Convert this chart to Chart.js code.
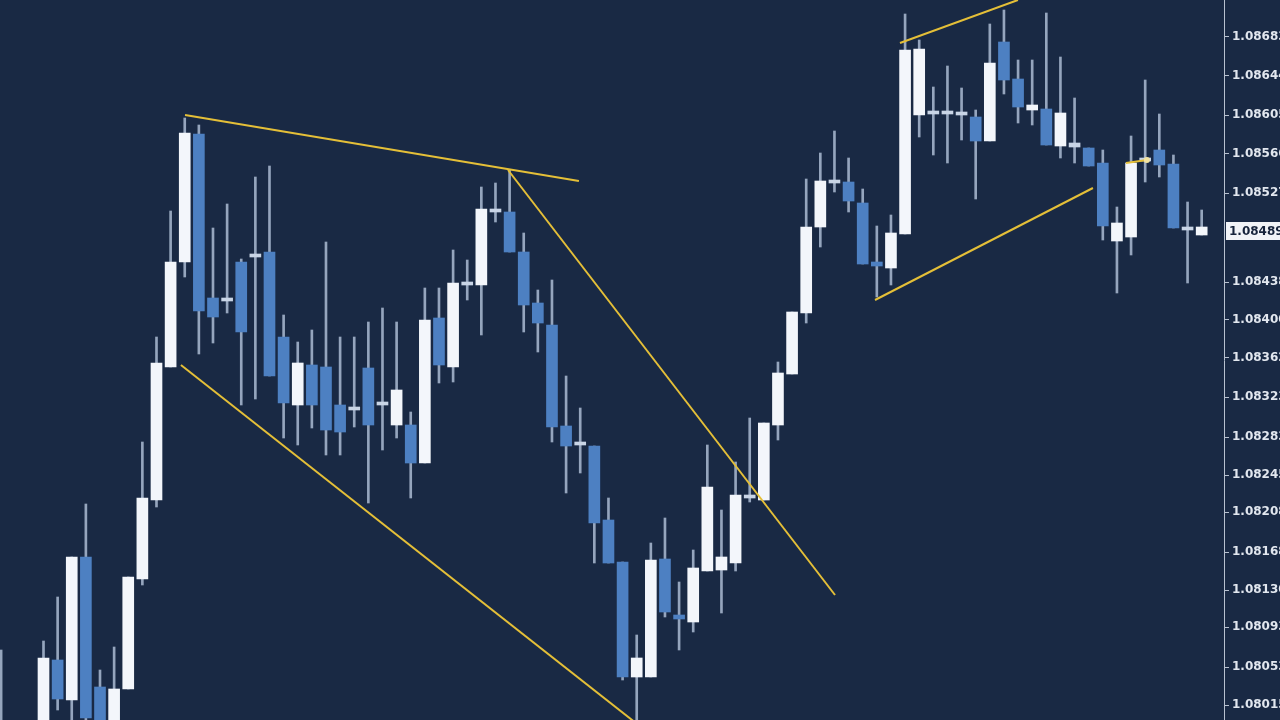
<!DOCTYPE html>
<html>
<head>
<meta charset="utf-8">
<script src="https://cdn.jsdelivr.net/npm/chart.js@4.4.1/dist/chart.umd.min.js"></script>
<style>
  html, body { margin: 0; padding: 0; background: #19294425; overflow: hidden; }
  body { background: #192944; }
  #wrap { width: 1280px; height: 720px; position: relative; }
</style>
</head>
<body>
<div id="wrap"><canvas id="price-chart"></canvas></div>
<script>
// Nến: open / high / low / close theo thứ tự thời gian
const openPrices = [
  1.07960, 1.07950, 1.07990, 1.07960, 1.08060, 1.08020, 1.08163, 1.08033, 1.07980, 1.08031,
  1.08141, 1.08220, 1.08353, 1.08458, 1.08586, 1.08422, 1.08419, 1.08458, 1.08463, 1.08468,
  1.08383, 1.08315, 1.08355, 1.08353, 1.08315, 1.08313, 1.08352, 1.08315, 1.08295, 1.08295,
  1.08257, 1.08402, 1.08353, 1.08438, 1.08435, 1.08511, 1.08508, 1.08468, 1.08417, 1.08395,
  1.08294, 1.08278, 1.08274, 1.08200, 1.08158, 1.08043, 1.08043, 1.08161, 1.08105, 1.08098,
  1.08149, 1.08150, 1.08157, 1.08225, 1.08220, 1.08295, 1.08346, 1.08407, 1.08493, 1.08540,
  1.08538, 1.08517, 1.08458, 1.08452, 1.08486, 1.08605, 1.08606, 1.08609, 1.08608, 1.08603,
  1.08579, 1.08678, 1.08641, 1.08610, 1.08611, 1.08574, 1.08577, 1.08572, 1.08557, 1.08479,
  1.08483, 1.08562, 1.08570, 1.08556, 1.08493, 1.08485
];
const highPrices = [
  1.08070, 1.07995, 1.07998, 1.08079, 1.08123, 1.08163, 1.08216, 1.08050, 1.08073, 1.08143,
  1.08278, 1.08383, 1.08509, 1.08602, 1.08595, 1.08492, 1.08516, 1.08461, 1.08543, 1.08554,
  1.08405, 1.08378, 1.08390, 1.08478, 1.08383, 1.08383, 1.08398, 1.08412, 1.08398, 1.08308,
  1.08432, 1.08432, 1.08470, 1.08460, 1.08533, 1.08537, 1.08550, 1.08487, 1.08430, 1.08440,
  1.08344, 1.08312, 1.08274, 1.08222, 1.08158, 1.08085, 1.08177, 1.08202, 1.08138, 1.08170,
  1.08275, 1.08210, 1.08258, 1.08302, 1.08297, 1.08358, 1.08408, 1.08541, 1.08567, 1.08589,
  1.08562, 1.08531, 1.08494, 1.08505, 1.08706, 1.08680, 1.08633, 1.08654, 1.08632, 1.08610,
  1.08696, 1.08710, 1.08660, 1.08660, 1.08707, 1.08663, 1.08622, 1.08572, 1.08570, 1.08513,
  1.08584, 1.08640, 1.08606, 1.08565, 1.08518, 1.08510
];
const lowPrices = [
  1.07950, 1.07940, 1.07950, 1.07950, 1.08010, 1.07990, 1.07985, 1.07970, 1.07970, 1.08031,
  1.08135, 1.08213, 1.08353, 1.08443, 1.08366, 1.08377, 1.08407, 1.08315, 1.08321, 1.08344,
  1.08282, 1.08275, 1.08292, 1.08265, 1.08265, 1.08293, 1.08217, 1.08270, 1.08282, 1.08222,
  1.08257, 1.08337, 1.08338, 1.08420, 1.08385, 1.08498, 1.08468, 1.08388, 1.08368, 1.08278,
  1.08227, 1.08247, 1.08157, 1.08157, 1.08040, 1.07995, 1.08043, 1.08103, 1.08070, 1.08088,
  1.08149, 1.08107, 1.08149, 1.08218, 1.08220, 1.08280, 1.08346, 1.08397, 1.08473, 1.08528,
  1.08508, 1.08456, 1.08423, 1.08435, 1.08486, 1.08583, 1.08565, 1.08557, 1.08580, 1.08521,
  1.08579, 1.08626, 1.08597, 1.08595, 1.08575, 1.08562, 1.08557, 1.08554, 1.08480, 1.08427,
  1.08465, 1.08538, 1.08543, 1.08492, 1.08437, 1.08485
];
const closePrices = [
  1.07995, 1.07985, 1.07960, 1.08062, 1.08021, 1.08163, 1.08002, 1.07980, 1.08031, 1.08143,
  1.08222, 1.08357, 1.08458, 1.08587, 1.08409, 1.08403, 1.08422, 1.08388, 1.08466, 1.08344,
  1.08317, 1.08357, 1.08315, 1.08290, 1.08288, 1.08310, 1.08295, 1.08318, 1.08330, 1.08257,
  1.08400, 1.08355, 1.08437, 1.08435, 1.08511, 1.08508, 1.08468, 1.08415, 1.08397, 1.08293,
  1.08274, 1.08275, 1.08197, 1.08157, 1.08043, 1.08062, 1.08160, 1.08108, 1.08101, 1.08152,
  1.08233, 1.08163, 1.08225, 1.08222, 1.08297, 1.08347, 1.08408, 1.08493, 1.08539, 1.08537,
  1.08519, 1.08456, 1.08454, 1.08487, 1.08670, 1.08671, 1.08609, 1.08606, 1.08605, 1.08579,
  1.08657, 1.08640, 1.08613, 1.08615, 1.08575, 1.08607, 1.08573, 1.08554, 1.08494, 1.08497,
  1.08557, 1.08559, 1.08555, 1.08492, 1.08490, 1.08493
];

// Các mức giá trên trục phải
const tickValues = [
  1.08015, 1.08053, 1.08093, 1.08130, 1.08168, 1.08208, 1.08245, 1.08283, 1.08323,
  1.08362, 1.08400, 1.08438, 1.08527, 1.08566, 1.08605, 1.08644, 1.08683
];
const currentPrice = 1.08489;

// Đường xu hướng: [chỉ số nến, giá]
const trendTopLeft = [[13.02, 1.08605], [40.91, 1.08539]];
const trendDown = [[35.89, 1.08550], [59.04, 1.08125]];
const trendBottomLeft = [[12.73, 1.08355], [44.85, 1.07998]];
const trendTopRight = [[63.64, 1.08677], [71.99, 1.08720]];
const trendBottomRight = [[61.87, 1.08420], [77.30, 1.08532]];
const trendShort = [[79.64, 1.08557], [81.12, 1.08560]];

const upColor = '#f3f6fb';
const downColor = '#4d80c2';
const dojiColor = '#c9d5e6';
const wickColor = '#95a5bd';
const lineColor = '#e4bf38';

function bodyColor(i) {
    const diff = closePrices[i] - openPrices[i];
    if (Math.abs(diff) <= 0.00004) return dojiColor;
    return diff > 0 ? upColor : downColor;
}

const wickData = openPrices.map((_, i) => ({ x: i, y: [lowPrices[i], highPrices[i]] }));
const bodyData = openPrices.map((o, i) => ({ x: i, y: [o, closePrices[i]] }));

function trendDataset(points, withDot) {
    return {
        type: 'line',
        data: points.map(p => ({ x: p[0], y: p[1] })),
        borderColor: lineColor,
        borderWidth: 2,
        pointRadius: withDot ? [0, 3] : 0,
        pointBackgroundColor: '#f3e3a0',
        pointBorderWidth: 0,
        fill: false,
        tension: 0,
        order: 0
    };
}

// Nhãn giá hiện tại ở trục phải
const priceTagPlugin = {
    id: 'priceTag',
    afterDraw(chart) {
        const { ctx, chartArea, scales } = chart;
        const y = scales.y.getPixelForValue(currentPrice);
        ctx.save();
        ctx.fillStyle = '#f1f3f7';
        ctx.fillRect(chartArea.right + 2, y - 9, 60, 18);
        ctx.fillStyle = '#16233b';
        ctx.font = 'bold 12px "DejaVu Sans"';
        ctx.textBaseline = 'middle';
        ctx.fillText(currentPrice.toFixed(5), chartArea.right + 5, y + 1);
        ctx.restore();
    }
};

const ctx = document.getElementById('price-chart').getContext('2d');
const priceChart = new Chart(ctx, {
    type: 'bar',
    data: {
        datasets: [
            {
                data: wickData,
                backgroundColor: wickColor,
                barThickness: 2,
                grouped: false,
                borderWidth: 0,
                order: 3
            },
            {
                data: bodyData,
                backgroundColor: openPrices.map((_, i) => bodyColor(i)),
                barThickness: 11,
                grouped: false,
                borderWidth: 0,
                order: 2
            },
            trendDataset(trendTopLeft),
            trendDataset(trendDown),
            trendDataset(trendBottomLeft),
            trendDataset(trendTopRight),
            trendDataset(trendBottomRight),
            trendDataset(trendShort, true)
        ]
    },
    options: {
        responsive: true,
        maintainAspectRatio: false,
        animation: false,
        events: [],
        layout: { padding: 0, autoPadding: false },
        plugins: {
            legend: { display: false },
            tooltip: { enabled: false }
        },
        scales: {
            x: {
                type: 'linear',
                display: false,
                offset: false,
                min: -0.08,
                max: 86.58
            },
            y: {
                type: 'linear',
                position: 'right',
                min: 1.08000,
                max: 1.08720,
                border: { display: true, color: '#b7c1d0', width: 1 },
                grid: {
                    drawOnChartArea: false,
                    drawTicks: true,
                    tickLength: 5,
                    color: '#b7c1d0'
                },
                ticks: {
                    color: '#e2e7ef',
                    padding: 3,
                    autoSkip: false,
                    font: { family: 'DejaVu Sans', size: 12, weight: 'bold' },
                    callback: (value) => Number(value).toFixed(5)
                },
                afterBuildTicks: (scale) => {
                    scale.ticks = tickValues.map(v => ({ value: v }));
                },
                afterFit: (scale) => {
                    scale.width = 56;
                    scale.paddingTop = 0;
                    scale.paddingBottom = 0;
                }
            }
        }
    },
    plugins: [priceTagPlugin]
});
</script>
</body>
</html>
